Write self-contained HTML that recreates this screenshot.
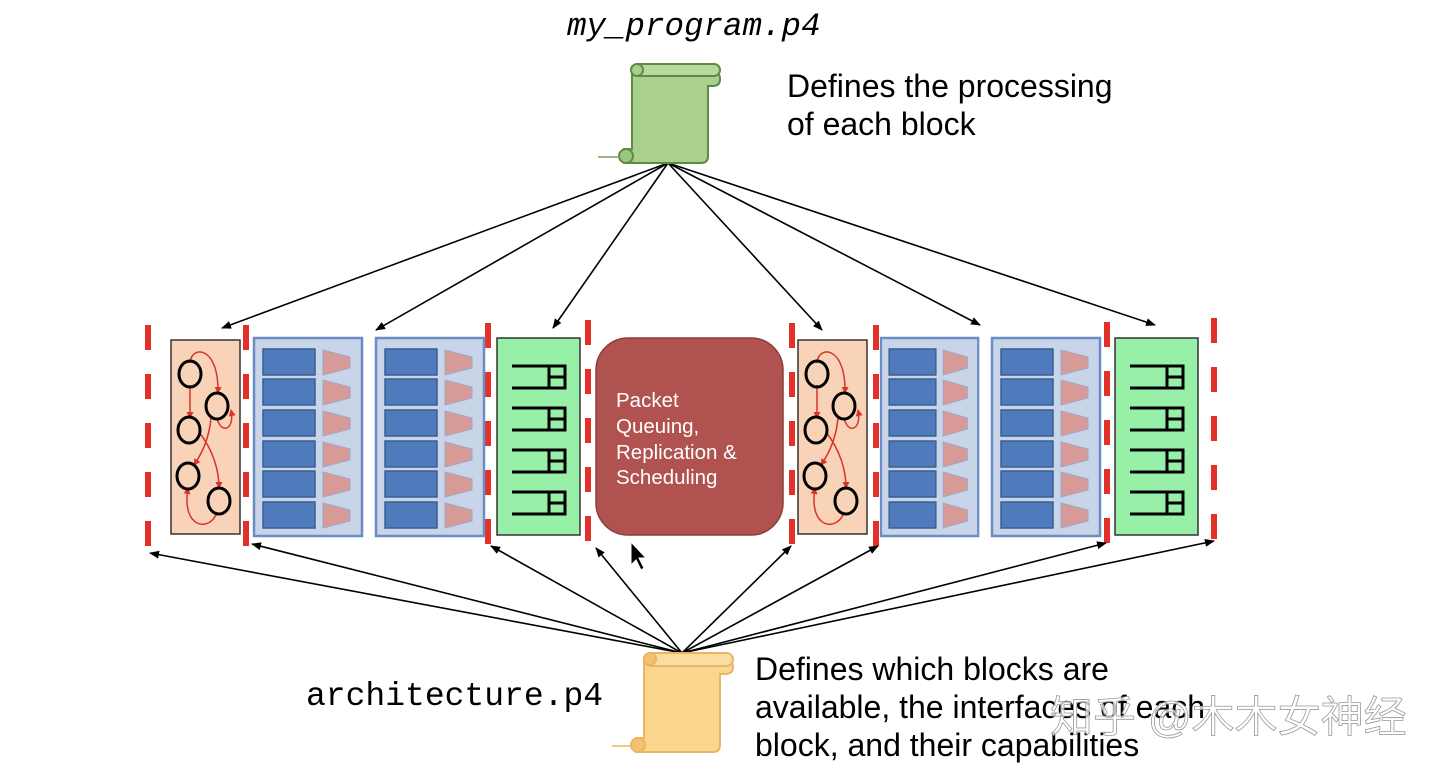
<!DOCTYPE html>
<html><head><meta charset="utf-8"><style>
html,body{margin:0;padding:0;background:#fff;width:1440px;height:777px;overflow:hidden}
svg{display:block}
</style></head><body>
<svg width="1440" height="777" viewBox="0 0 1440 777" xmlns="http://www.w3.org/2000/svg">
<defs>
<marker id="ah" markerWidth="10" markerHeight="8" refX="9" refY="4" orient="auto" markerUnits="userSpaceOnUse">
<path d="M0,0 L10,4 L0,8 z" fill="#000"/></marker>
<marker id="rh" markerWidth="7" markerHeight="7" refX="6" refY="3.5" orient="auto" markerUnits="userSpaceOnUse">
<path d="M0,0 L7,3.5 L0,7 z" fill="#d9342b"/></marker>
<g id="row">
<rect x="0" y="0" width="52" height="26" fill="#4f7bbd" stroke="#3b5e93" stroke-width="1.5"/>
<polygon points="60,1 87,8 87,19 60,26" fill="#d89a97" stroke="#9aa9c8" stroke-width="1"/>
</g>
<g id="blue">
<rect x="0" y="0" width="108" height="198" fill="#c8d4e8" stroke="#6a8ec4" stroke-width="2.5"/>
<use href="#row" x="9" y="11"/><use href="#row" x="9" y="41"/><use href="#row" x="9" y="72"/>
<use href="#row" x="9" y="103"/><use href="#row" x="9" y="133"/><use href="#row" x="9" y="164"/>
</g>
<g id="q" fill="none" stroke="#000" stroke-width="3">
<path d="M15,0 H68 V22 H15 M52,0 V22 M52,11 H68"/>
</g>
<g id="green">
<rect x="0" y="0" width="83" height="197" fill="#98f0a8" stroke="#333" stroke-width="1.5"/>
<use href="#q" x="0" y="28"/><use href="#q" x="0" y="70"/><use href="#q" x="0" y="112"/><use href="#q" x="0" y="154"/>
</g>
<g id="orange">
<rect x="0" y="0" width="69" height="194" fill="#f8d3b7" stroke="#333" stroke-width="1.5"/>
<g fill="none" stroke="#d9342b" stroke-width="1.5">
<path d="M19,23 C20,5 48,5 47,53" marker-end="url(#rh)"/>
<path d="M19,45 L19,78" marker-end="url(#rh)"/>
<path d="M46,78 C50,95 64,90 60,70" marker-end="url(#rh)"/>
<path d="M40,78 C38,100 30,115 23,125" marker-end="url(#rh)"/>
<path d="M28,92 C42,110 48,130 48,148" marker-end="url(#rh)"/>
<path d="M46,172 C40,192 10,190 17,148" marker-end="url(#rh)"/>
</g>
<g fill="none" stroke="#000" stroke-width="3">
<ellipse cx="19" cy="34" rx="11" ry="13"/><ellipse cx="46" cy="66" rx="11" ry="13"/>
<ellipse cx="18" cy="90" rx="11" ry="13"/><ellipse cx="17" cy="136" rx="11" ry="13"/>
<ellipse cx="48" cy="161" rx="11" ry="13"/>
</g>
</g>
</defs>

<g stroke="#e3312a" stroke-width="6" stroke-dasharray="25 24">
<line x1="148" y1="325" x2="148" y2="548"/>
<line x1="246" y1="325" x2="246" y2="550"/>
<line x1="488" y1="323" x2="488" y2="548"/>
<line x1="588" y1="320" x2="588" y2="545"/>
<line x1="792" y1="323" x2="792" y2="548"/>
<line x1="876" y1="325" x2="876" y2="550"/>
<line x1="1107" y1="322" x2="1107" y2="546"/>
<line x1="1214" y1="318" x2="1214" y2="543"/>
</g>

<use href="#orange" x="171" y="340"/>
<use href="#blue" x="254" y="338"/>
<use href="#blue" x="376" y="338"/>
<use href="#green" x="497" y="338"/>
<rect x="596" y="338" width="187" height="197" rx="32" fill="#b0524f" stroke="#8e3d3a" stroke-width="1.5"/>
<g font-family="Liberation Sans, sans-serif" font-size="20.5" fill="#fff">
<text x="616" y="407">Packet</text><text x="616" y="433">Queuing,</text>
<text x="616" y="459">Replication &amp;</text><text x="616" y="484">Scheduling</text>
</g>
<use href="#orange" x="798" y="340"/>
<use href="#blue" transform="translate(881,338) scale(0.9,1)"/>
<use href="#blue" x="992" y="338"/>
<use href="#green" x="1115" y="338"/>

<path d="M631,542 L631,565 L636,560 L641,570 L644,568 L639,558 L646,558 z" fill="#000" stroke="#fff" stroke-width="1"/>

<g stroke="#000" stroke-width="1.6" marker-end="url(#ah)">
<line x1="668" y1="163" x2="222" y2="328"/>
<line x1="668" y1="163" x2="376" y2="330"/>
<line x1="668" y1="163" x2="553" y2="328"/>
<line x1="668" y1="163" x2="822" y2="330"/>
<line x1="668" y1="163" x2="980" y2="325"/>
<line x1="668" y1="163" x2="1155" y2="325"/>
</g>
<g stroke="#000" stroke-width="1.6" marker-end="url(#ah)">
<line x1="682" y1="653" x2="150" y2="553"/>
<line x1="682" y1="653" x2="252" y2="544"/>
<line x1="682" y1="653" x2="491" y2="546"/>
<line x1="682" y1="653" x2="596" y2="548"/>
<line x1="682" y1="653" x2="791" y2="546"/>
<line x1="682" y1="653" x2="878" y2="546"/>
<line x1="682" y1="653" x2="1106" y2="543"/>
<line x1="682" y1="653" x2="1214" y2="541"/>
</g>

<g stroke="#5e8a45" stroke-width="2" fill="#a9d08e">
<path d="M632,72 H713 Q720,72 720,79 Q720,86 713,86 H708 V156 Q708,163 701,163 H624 V149 H632 z"/>
<rect x="632" y="64" width="88" height="12" rx="6" fill="#b7d99f"/>
<circle cx="637" cy="70" r="6" fill="#a9d08e"/>
<circle cx="626" cy="156" r="7" fill="#9cc57f"/>
</g>
<line x1="598" y1="157" x2="620" y2="157" stroke="#7a9c66" stroke-width="1.5"/>

<g stroke="#e8b665" stroke-width="2" fill="#fbd68f">
<path d="M644,660 H725 Q733,660 733,667 Q733,674 725,674 H720 V745 Q720,752 713,752 H636 V738 H644 z"/>
<rect x="644" y="653" width="89" height="13" rx="6.5" fill="#fcdca0"/>
<circle cx="650" cy="659" r="6" fill="#f3c271"/>
<circle cx="638" cy="745" r="7" fill="#f3c271"/>
</g>
<line x1="612" y1="746" x2="632" y2="746" stroke="#e8b665" stroke-width="1.5"/>

<text x="567" y="35" font-family="Liberation Mono, monospace" font-style="italic" font-size="32.5" fill="#000">my_program.p4</text>
<text x="306" y="705" font-family="Liberation Mono, monospace" font-size="33" fill="#000">architecture.p4</text>
<g font-family="Liberation Sans, sans-serif" font-size="32" fill="#000">
<text x="787" y="97">Defines the processing</text>
<text x="787" y="135">of each block</text>
<text x="755" y="680">Defines which blocks are</text>
<text x="755" y="718">available, the interfaces of each</text>
<text x="755" y="756">block, and their capabilities</text>
</g>
<text x="1050" y="732" font-family="Liberation Sans, Noto Sans CJK SC, sans-serif" font-size="43" fill="#fff" fill-opacity="0.75" stroke="#999" stroke-width="0.8">知乎 @木木女神经</text>
</svg>
</body></html>
